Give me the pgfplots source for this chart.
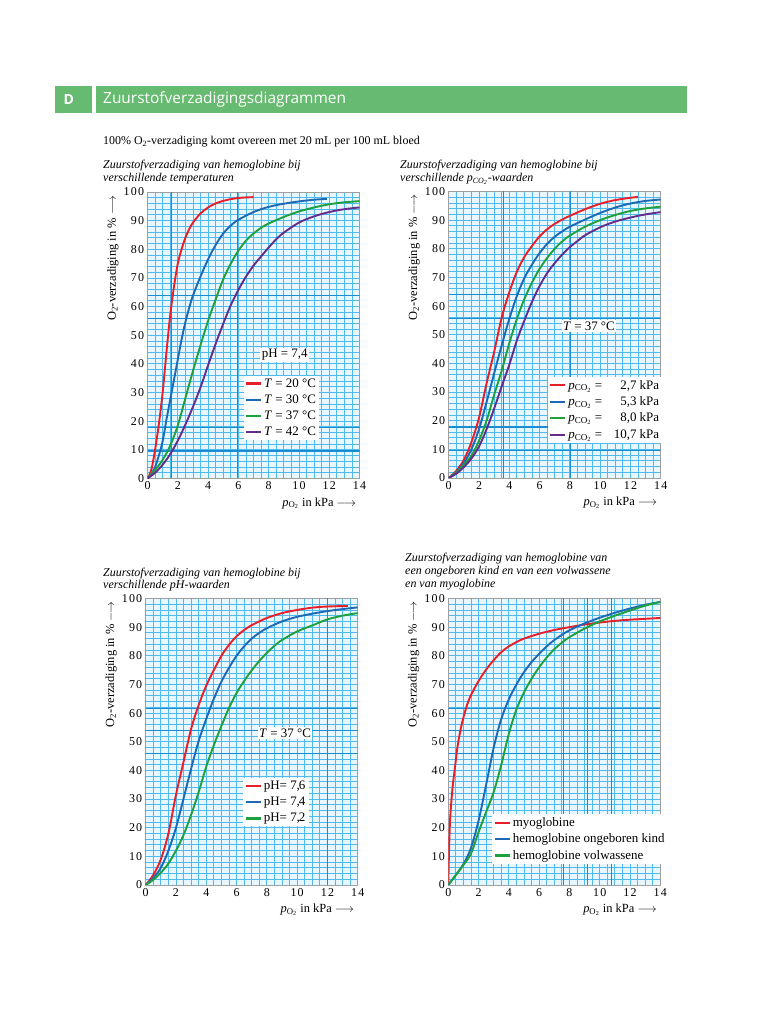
\documentclass[border=0pt]{standalone}
\usepackage{pgfplots}
\pgfplotsset{compat=1.18}
\usepackage{fontspec}
\setmainfont{Liberation Serif}
\newfontfamily\headfont{Open Sans}
\newfontfamily\tickfont{Liberation Serif}[LetterSpace=10]

\definecolor{headgreen}{RGB}{102,187,112}
\definecolor{paper}{RGB}{232,246,253}
\definecolor{gridc}{RGB}{80,185,238}
\definecolor{gridd}{RGB}{25,140,210}
\definecolor{cred}{RGB}{232,30,40}
\definecolor{cblue}{RGB}{30,105,180}
\definecolor{cgreen}{RGB}{30,160,60}
\definecolor{cpurple}{RGB}{100,45,140}

\newcommand{\pOtwo}{\textit{p}\textsubscript{O\textsubscript{2}}}
\newcommand{\pCOtwo}{\textit{p}\textsubscript{CO\textsubscript{2}}}

\tikzset{
  boxnote/.style={fill=white, inner sep=1.5bp, font=\fontsize{13}{13}\selectfont},
  cmline/.style={gridd, line width=1.2bp},
}
% heavier lines of the graph paper
\newcommand{\cmvert}[1]{\draw[cmline] (axis cs:#1,0) -- (axis cs:#1,100);}
\newcommand{\cmhorz}[1]{\draw[cmline] (axis cs:0,#1) -- (axis cs:14,#1);}

\pgfplotsset{
  o2chart/.style={
    scale only axis, width=212bp, height=286.5bp,
    anchor=south west,
    xmin=0, xmax=14, ymin=0, ymax=100,
    xtick={0,2,...,14}, ytick={0,10,...,100},
    minor x tick num=3, minor y tick num=4,
    grid=both,
    axis background/.style={fill=paper},
    major grid style={gridc, line width=0.85bp},
    minor grid style={gridc, line width=0.85bp},
    major tick length=0pt, minor tick length=0pt,
    axis line style={gray!75, line width=0.7bp},
    tick label style={font=\tickfont\fontsize{12}{12}\selectfont},
    /pgf/number format/assume math mode=true,
    every axis plot/.append style={line width=1.9bp, smooth, tension=0.55, mark=none},
    xlabel={\pOtwo{} in kPa $\longrightarrow$},
    ylabel={O\textsubscript{2}-verzadiging in \% $\longrightarrow$},
    every axis x label/.style={at={(axis description cs:1,-0.086)}, anchor=east,
      font=\fontsize{12.5}{12.5}\selectfont},
    every axis y label/.style={at={(axis description cs:-0.163,1)}, rotate=90, anchor=east,
      font=\fontsize{12.5}{12.5}\selectfont},
    legend cell align=left,
    legend image code/.code={\draw[#1, line width=2.2bp] (0bp,0bp) -- (15bp,0bp);},
    legend style={draw=none, fill=white, inner xsep=1.5bp, inner ysep=1bp,
      font=\fontsize{13}{13}\selectfont, row sep=2bp, anchor=north west},
  },
}

\begin{document}
\begin{tikzpicture}[x=1bp, y=1bp]
% page
\fill[white] (0,0) rectangle (768,1024);

% header bar
\fill[headgreen] (55,911) rectangle (92,938);
\fill[headgreen] (96,911) rectangle (687,938);
\node[anchor=west, text=white, font=\headfont\bfseries\fontsize{14}{14}\selectfont] at (60,924.5) {D};
\node[anchor=west, text=white, font=\headfont\fontsize{15.5}{15.5}\selectfont, inner sep=0pt] at (103,924.5) {Zuurstofverzadigingsdiagrammen};

% intro line
\node[anchor=base west, inner sep=0pt, font=\fontsize{12}{12}\selectfont] at (103,879)
  {100\% O\textsubscript{2}-verzadiging komt overeen met 20 mL per 100 mL bloed};

% titles
\begin{scope}[every node/.style={anchor=base west, inner sep=0pt, font=\itshape\fontsize{12}{12}\selectfont}]
\node at (103,855) {Zuurstofverzadiging van hemoglobine bij};
\node at (103,842) {verschillende temperaturen};
\node at (400,855) {Zuurstofverzadiging van hemoglobine bij};
\node at (400,842) {verschillende \pCOtwo-waarden};
\node at (103,447) {Zuurstofverzadiging van hemoglobine bij};
\node at (103,435) {verschillende pH-waarden};
\node at (405,462) {Zuurstofverzadiging van hemoglobine van};
\node at (405,449) {een ongeboren kind en van een volwassene};
\node at (405,436) {en van myoglobine};
\end{scope}

%---------------- temperatures ----------------
\begin{axis}[o2chart, at={(147.5bp,545.5bp)},
  legend style={at={(axis description cs:0.452,0.36)}}]
\cmvert{1.57}\cmvert{5.92}\cmhorz{9.6}\cmhorz{17.8}\cmhorz{55.8}\cmhorz{64}
\addplot[cred] coordinates {(0,0) (0.25,3) (0.5,10) (0.75,19) (1,30) (1.25,44) (1.5,57) (1.75,67) (2,75) (2.25,80) (2.5,84) (2.75,87) (3,89.3) (3.5,92.5) (4,94.6) (4.5,96) (5,96.9) (5.5,97.5) (6,97.9) (6.5,98.1) (7,98.2)};
\addplot[cblue] coordinates {(0,0) (0.25,1.5) (0.5,4) (0.75,8) (1,13) (1.25,20.5) (1.5,27.5) (1.75,34.5) (2,41.5) (2.25,48.5) (2.5,54.5) (2.75,59.5) (3,63.8) (3.5,70.5) (4,76.5) (4.5,81.5) (5,85.5) (5.5,88.3) (6,90.3) (7,93) (8,94.8) (9,95.9) (10,96.7) (11,97.3) (11.85,97.6)};
\addplot[cgreen] coordinates {(0,0) (0.5,3) (1,6.5) (1.5,11.5) (2,18.5) (2.5,28) (3,37.5) (3.5,46.5) (4,55) (4.5,62.5) (5,69.5) (5.5,75) (6,79.5) (6.5,83) (7,85.5) (7.5,87.5) (8,89) (9,91.3) (10,93.2) (11,94.6) (12,95.7) (13,96.4) (14,96.8)};
\addplot[cpurple] coordinates {(0,0) (0.5,2) (1,4.8) (1.5,8.5) (2,13.2) (2.5,18.8) (3,25) (3.5,31.8) (4,39.5) (4.5,47) (5,54) (5.5,60.5) (6,65.8) (6.5,70.4) (7,74.3) (7.5,77.5) (8,80.6) (8.5,83.5) (9,85.8) (10,89.3) (11,91.5) (12,93) (13,94) (14,94.6)};
\legend{\textit{T} = 20~°C, \textit{T} = 30~°C, \textit{T} = 37~°C, \textit{T} = 42~°C}
\node[boxnote] at (axis cs:9.06,43.2) {pH = 7,4};
\end{axis}

%---------------- pCO2 ----------------
\begin{axis}[o2chart, at={(448.7bp,546bp)},
  legend style={at={(axis description cs:0.466,0.353)}}]
\cmvert{3.64}\cmvert{8.02}\cmhorz{9.6}\cmhorz{17.8}\cmhorz{55.8}\cmhorz{64}
\addplot[cred] coordinates {(0,0) (0.5,2.5) (1,6.3) (1.5,12.5) (2,21) (2.5,33) (3,44) (3.5,56) (4,64.8) (4.5,72) (5,77.2) (5.5,81) (6,84.3) (6.5,86.8) (7,88.7) (7.5,90.2) (8,91.5) (9,93.8) (10,95.7) (11,97) (12,97.8) (12.5,98.1)};
\addplot[cblue] coordinates {(0,0) (0.5,2) (1,5.3) (1.5,10) (2,17) (2.5,26.5) (3,36.5) (3.5,46.3) (4,55.5) (4.5,63.5) (5,69.8) (5.5,74.5) (6,78.5) (6.5,81.7) (7,84.2) (7.5,86.1) (8,87.7) (9,90.2) (10,92.5) (11,94.4) (12,95.8) (13,96.7) (14,97.2)};
\addplot[cgreen] coordinates {(0,0) (0.5,1.8) (1,4.6) (1.5,7.8) (2,13) (2.5,20) (3,29) (3.5,37.5) (4,47) (4.5,55.5) (5,62.5) (5.5,68.2) (6,73) (6.5,76.8) (7,80) (7.5,82.6) (8,84.6) (9,87.7) (10,90) (11,91.8) (12,93.2) (13,94.1) (14,94.7)};
\addplot[cpurple] coordinates {(0,0) (0.5,1.5) (1,3.8) (1.5,6.8) (2,11) (2.5,17) (3,24.2) (3.5,32) (4,39.5) (4.5,48) (5,55) (5.5,61.5) (6,67) (6.5,71.5) (7,75) (7.5,78) (8,80.6) (8.5,82.7) (9,84.7) (10,87.5) (11,89.5) (12,90.9) (13,92) (14,92.8)};
\legend{\pCOtwo{} = \makebox[2.4em][r]{2,7} kPa, \pCOtwo{} = \makebox[2.4em][r]{5,3} kPa, \pCOtwo{} = \makebox[2.4em][r]{8,0} kPa, \pCOtwo{} = \makebox[2.4em][r]{10,7} kPa}
\node[boxnote] at (axis cs:9.26,53) {\textit{T} = 37~°C};
\end{axis}

%---------------- pH ----------------
\begin{axis}[o2chart, at={(145.7bp,139bp)},
  legend style={at={(axis description cs:0.459,0.373)}}]
\cmvert{12.0}\cmhorz{45.8}\cmhorz{53.8}\cmhorz{61.7}
\addplot[cred] coordinates {(0,0) (0.5,3.5) (1,9) (1.5,18) (2,31.5) (2.5,43) (3,54.5) (3.5,62.8) (4,69.6) (4.5,75) (5,80) (5.5,83.8) (6,86.8) (6.5,89) (7,90.7) (7.5,92) (8,93.2) (9,94.9) (10,96) (11,96.8) (12,97.2) (13.35,97.4)};
\addplot[cblue] coordinates {(0,0) (0.5,2.5) (1,6) (1.5,12) (2,20) (2.5,30.2) (3,40.6) (3.5,50.3) (4,58) (4.5,65) (5,71) (5.5,75.8) (6,80) (6.5,83.3) (7,86) (7.5,88) (8,89.6) (9,92) (10,93.6) (11,94.7) (12,95.6) (13,96.3) (14,96.9)};
\addplot[cgreen] coordinates {(0,0) (0.5,1.8) (1,4.3) (1.5,7.5) (2,12) (2.5,17.5) (3,24.5) (3.5,32.5) (4,41.3) (4.5,48.8) (5,55.5) (5.5,61.8) (6,67) (6.5,71.2) (7,74.9) (7.5,78.2) (8,81) (8.5,83.5) (9,85.5) (10,88.5) (11,90.6) (12,92.7) (13,94) (14,94.9)};
\legend{pH= 7\rlap{,}\,6, pH= 7\rlap{,}\,4, pH= 7\rlap{,}\,2}
\node[boxnote] at (axis cs:9.2,53.1) {\textit{T} = 37~°C};
\end{axis}

%---------------- myoglobine / foetal / adult ----------------
\begin{axis}[o2chart, at={(448.3bp,139bp)},
  xticklabels={0,\raisebox{-4bp}{2},4,6,8,10,12,14},
  legend style={at={(axis description cs:0.206,0.247)}}]
\cmvert{7.6}\cmvert{9.2}\cmvert{10.8}\cmhorz{45.8}\cmhorz{53.8}\cmhorz{61.7}
\addplot[cred] coordinates {(0,0) (0.03,8) (0.07,16) (0.12,23) (0.2,29) (0.3,35) (0.44,41) (0.6,48) (0.8,54) (1,58.5) (1.25,63) (1.5,66.3) (2,71.2) (2.5,75.2) (3,78.5) (3.5,81.3) (4,83.3) (4.5,84.8) (5,86) (6,87.7) (7,89) (8,90) (9,90.9) (10,91.6) (11,92.2) (12,92.6) (13,92.9) (14,93.2)};
\addplot[cblue] coordinates {(0,0) (0.5,3.5) (1,7.3) (1.5,13) (2,22.5) (2.5,35) (3,48) (3.5,58) (4,64.8) (4.5,70) (5,74.3) (5.5,77.8) (6,80.7) (6.5,83.3) (7,85.5) (7.5,87.3) (8,88.9) (9,91.3) (10,93.3) (11,95) (12,96.5) (13,97.8) (14,98.8)};
\addplot[cgreen] coordinates {(0,0) (0.5,3.5) (1,7) (1.5,11) (2,18.5) (2.5,25.5) (3,32.5) (3.5,42) (4,52.8) (4.5,61.3) (5,67.2) (5.5,72) (6,76) (6.5,79.4) (7,82.3) (7.5,84.6) (8,86.5) (9,89.5) (10,92) (11,94) (12,95.8) (13,97.5) (14,98.8)};
\legend{myoglobine, hemoglobine ongeboren kind, hemoglobine volwassene}
\end{axis}
\end{tikzpicture}
\end{document}
